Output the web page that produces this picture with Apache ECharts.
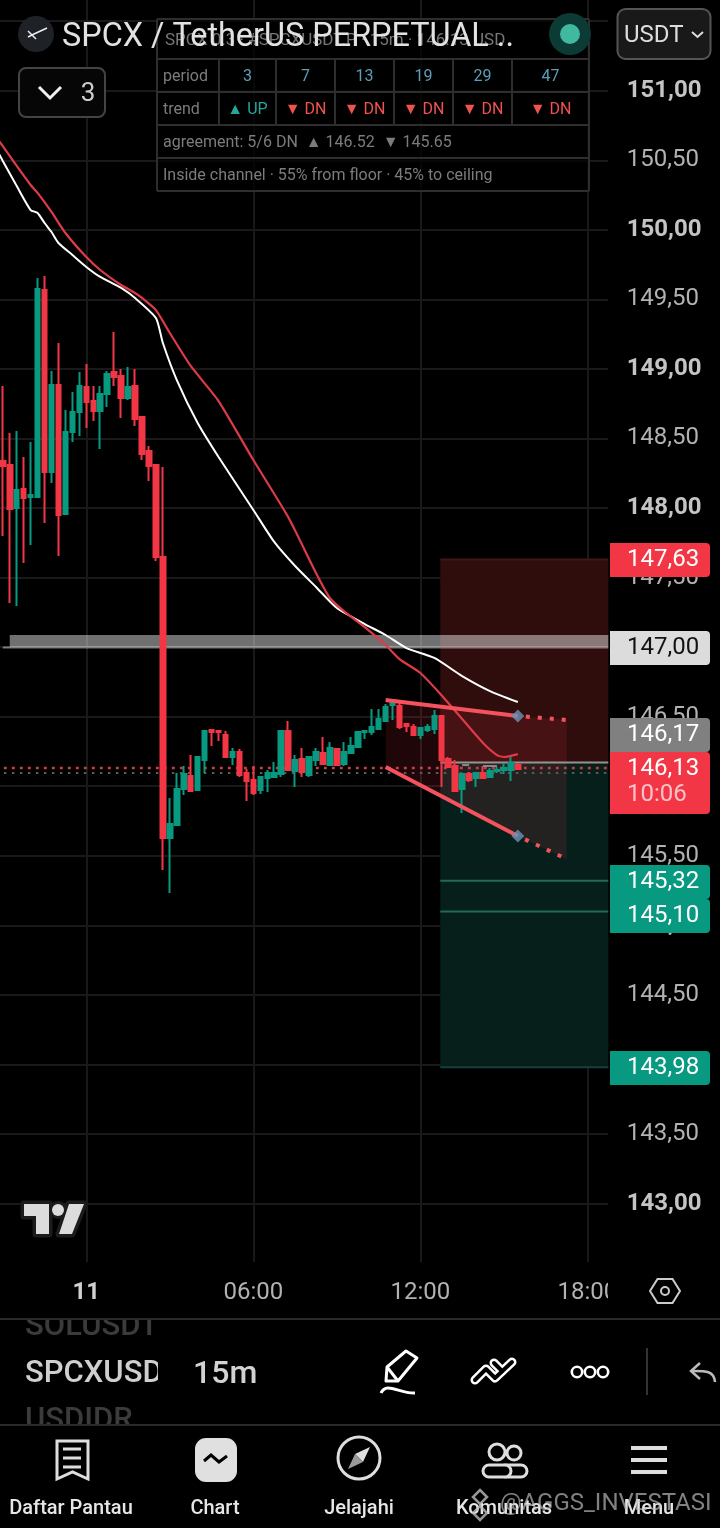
<!DOCTYPE html>
<html><head><meta charset="utf-8">
<style>html,body{margin:0;padding:0;background:#000}#c{width:720px;height:1528px}</style>
<script src="https://cdn.jsdelivr.net/npm/echarts@6/dist/echarts.min.js"></script>
</head><body><div id="c"></div>
<script>
// ---------- data ----------
const candleOpen=[148.338,148.309,148.000,148.137,148.079,148.079,149.567,148.259,148.884,147.957,148.546,148.690,148.870,148.769,148.697,148.820,148.978,148.949,148.791,148.877,148.654,148.410,148.309,147.648,145.628,145.721,145.980,146.073,145.973,146.188,146.404,146.397,146.368,146.210,146.246,146.095,146.044,145.973,146.059,146.066,146.088,146.397,146.109,146.195,146.080,146.188,146.239,146.152,146.267,146.160,146.239,146.282,146.390,146.390,146.411,146.469,146.584,146.576,146.447,146.426,146.368,146.404,146.411,146.505,146.195,146.145,145.980,146.088,146.059,146.095,146.066,146.109,146.116,146.116,146.152];
const candleClose=[148.302,147.993,148.129,148.072,148.093,149.574,148.259,148.884,147.950,148.546,148.690,148.877,148.762,148.697,148.820,148.963,148.942,148.791,148.870,148.640,148.388,148.302,147.648,145.628,145.728,145.980,146.088,145.965,146.210,146.397,146.390,146.390,146.210,146.246,146.080,146.037,145.951,146.066,146.095,146.095,146.397,146.116,146.188,146.102,146.210,146.246,146.160,146.275,146.152,146.246,146.289,146.390,146.397,146.426,146.483,146.569,146.598,146.426,146.433,146.368,146.418,146.426,146.505,146.188,146.138,145.965,146.088,146.044,146.095,146.059,146.109,146.116,146.131,146.167,146.123];
const candleLow=[147.799,147.317,147.295,147.605,147.734,148.079,147.892,148.180,147.655,147.957,148.474,148.518,148.575,148.625,148.424,148.726,148.877,148.647,148.776,148.590,148.345,148.194,147.619,145.398,145.232,145.714,145.937,145.958,145.965,146.095,146.289,146.325,146.210,146.152,146.066,145.893,145.937,145.944,145.958,146.066,146.066,146.116,145.994,146.066,146.066,146.145,146.160,146.145,146.152,146.145,146.239,146.282,146.339,146.368,146.411,146.469,146.476,146.411,146.390,146.368,146.339,146.390,146.375,145.994,146.131,145.958,145.807,146.030,145.994,146.059,146.059,146.095,146.088,146.037,146.116];
const candleHigh=[148.877,148.539,148.554,148.367,148.474,149.653,149.668,148.985,149.186,148.704,148.834,148.978,149.035,148.877,148.877,148.985,149.265,149.000,149.014,149.000,148.654,148.446,148.316,148.295,145.915,146.095,146.145,146.224,146.210,146.397,146.404,146.397,146.397,146.275,146.267,146.124,146.145,146.066,146.116,146.174,146.397,146.469,146.224,146.275,146.210,146.275,146.354,146.318,146.267,146.318,146.354,146.397,146.397,146.555,146.555,146.591,146.620,146.598,146.447,146.447,146.418,146.447,146.548,146.505,146.210,146.188,146.088,146.102,146.102,146.145,146.131,146.138,146.167,146.224,146.167];
const redMaK=[-1,0,2,4,5,7,9,12,14,17,19,20,22,24,27,31,36,41,45,47,49,52,55,57,60,63,66,69,71,72,74];
const redMa=[150.667,150.602,150.459,150.322,150.265,150.128,149.977,149.804,149.711,149.603,149.546,149.510,149.423,149.258,149.021,148.769,148.345,147.935,147.533,147.353,147.259,147.144,147.015,146.914,146.814,146.656,146.483,146.311,146.224,146.210,146.231];
const whiteMaK=[-1,0,2,4,5,6,7,8,10,12,14,17,19,22,23,25,28,31,36,39,42,45,48,52,55,58,62,66,70,74];
const whiteMa=[150.588,150.495,150.315,150.142,150.121,150.049,149.984,149.905,149.819,149.733,149.661,149.582,149.510,149.366,149.186,148.920,148.611,148.367,147.986,147.756,147.583,147.432,147.281,147.166,147.087,146.993,146.922,146.792,146.684,146.605];
const wedgeK=[55,74,81];
const wedgeTop=[146.620,146.505,146.476];
const wedgeBottom=[146.138,145.642,145.477];
const lastPrice=146.13, avgPrice=146.095;
const shortEntry=146.17, stopLoss=147.63, target=143.98, target1=145.32, target2=145.10;
const levelTop=147.087, levelBottom=147.00;
const ghostK=[[67,68],[70,72]], ghostP=[146.152,146.145];
const priceTicksMin=142.5, priceTicksMax=152, priceStep=0.5;
const tagTexts=['147,63','147,00','146,17','146,13','145,32','145,10','143,98'];
const periods=['3','7','13','19','29','47'];
const trends=['▲ UP','▼ DN','▼ DN','▼ DN','▼ DN','▼ DN'];
const times=[];for(let i=0;i<89;i++){const m=20*60+45+i*15;const h=Math.floor(m/60)%24;times.push(String(h).padStart(2,'0')+':'+String(m%60).padStart(2,'0'));}

// ---------- chart ----------
const FONT='Roboto';
const RED='#f23645',GREEN='#089981';
const candles=[['-','-','-','-']].concat(candleOpen.map((o,i)=>[o,candleClose[i],candleLow[i],candleHigh[i]]));
const sparse=(ks,vs)=>ks.map((k,i)=>[k+1,vs[i]]);
const showTick=(i,v)=>/^(00|06|12|18):00$/.test(v);

function zoneRender(top,bottom,fill,edge){
  return function(params,api){
    const a=api.coord([64,top]),b=api.coord([88,bottom]);
    const ch=[{type:'rect',shape:{x:a[0]-1,y:a[1],width:b[0]-a[0]+1,height:b[1]-a[1]},style:{fill:fill}}];
    if(edge)ch.push({type:'line',shape:{x1:a[0]-1,y1:edge==='t'?a[1]:b[1],x2:b[0],y2:edge==='t'?a[1]:b[1]},style:{stroke:edge==='t'?'#461416':'#16403a',lineWidth:2}});
    return {type:'group',children:ch};
  };
}
const series=[
 {type:'custom',z:2,silent:true,clip:false,data:[[64,stopLoss]],encode:{x:0,y:1},renderItem:zoneRender(stopLoss,shortEntry,'#2f0d0d','t')},
 {type:'custom',z:2,silent:true,clip:false,data:[[64,target]],encode:{x:0,y:1},renderItem:zoneRender(shortEntry,target,'#061f1b','b')},
 {type:'custom',z:3,silent:true,clip:false,data:[[2,levelTop]],encode:{x:0,y:1},renderItem:function(p,api){
   const a=api.coord([2,levelTop]),b=api.coord([88,levelBottom]),c=api.coord([1,levelBottom]);
   return {type:'group',children:[
     {type:'rect',shape:{x:a[0],y:a[1],width:b[0]-a[0],height:b[1]-a[1]},style:{fill:'rgba(255,255,255,0.44)'}},
     {type:'line',shape:{x1:c[0],y1:b[1]+0.5,x2:b[0],y2:b[1]+0.5},style:{stroke:'rgba(255,255,255,0.45)',lineWidth:2}}]};
 }},
 {type:'custom',z:3,silent:true,clip:false,data:[[56,wedgeTop[0]]],encode:{x:0,y:1},renderItem:function(p,api){
   const pts=[];wedgeK.forEach((k,i)=>pts.push(api.coord([k+1,wedgeTop[i]])));
   for(let i=wedgeK.length-1;i>=0;i--)pts.push(api.coord([wedgeK[i]+1,wedgeBottom[i]]));
   return {type:'polygon',shape:{points:pts},style:{fill:'rgba(242,54,69,0.13)'}};
 }},
 {type:'custom',z:3,silent:true,clip:false,data:[[64,target1]],encode:{x:0,y:1},renderItem:function(p,api){
   const mk=v=>{const a=api.coord([64,v]),b=api.coord([88,v]);return {type:'line',shape:{x1:a[0]-1,y1:a[1],x2:b[0],y2:b[1]},style:{stroke:'#1f6a5a',lineWidth:2}};};
   const a=api.coord([64,shortEntry]),b=api.coord([88,shortEntry]);
   return {type:'group',children:[mk(target1),mk(target2),{type:'line',shape:{x1:a[0]-1,y1:a[1],x2:b[0],y2:b[1]},style:{stroke:'rgba(190,190,190,0.75)',lineWidth:2}}]};
 }},
 {type:'line',z:3,silent:true,symbol:'none',data:[[0,avgPrice],[88,avgPrice]],lineStyle:{color:'#5a5a5a',width:2,type:[2.5,5.5]}},
 {type:'line',z:3,silent:true,symbol:'none',data:[[0,lastPrice],[88,lastPrice]],lineStyle:{color:'#c83a46',width:2.5,type:[3,5]}},
 {type:'candlestick',z:4,silent:true,barWidth:5,data:candles,itemStyle:{color:GREEN,color0:RED,borderColor:GREEN,borderColor0:RED,borderWidth:2}},
 {type:'custom',z:5,silent:true,clip:false,data:[[ghostK[0][0],ghostP[0]]],encode:{x:0,y:1},renderItem:function(p,api){
   return {type:'group',children:ghostK.map((k,i)=>{const a=api.coord([k[0],ghostP[i]]),b=api.coord([k[1],ghostP[i]]);
     return {type:'line',shape:{x1:a[0],y1:a[1],x2:b[0],y2:b[1]},style:{stroke:'#8a8a8a',lineWidth:2}};})};
 }},
 {type:'line',z:5,silent:true,symbol:'none',smooth:0.2,data:sparse(whiteMaK,whiteMa),lineStyle:{color:'#ffffff',width:2}},
 {type:'line',z:5,silent:true,symbol:'none',smooth:0.2,data:sparse(redMaK,redMa),lineStyle:{color:'#dd3b47',width:2.2}},
 {type:'line',z:6,silent:true,symbol:'none',data:sparse(wedgeK.slice(0,2),wedgeTop.slice(0,2)),lineStyle:{color:'#f4525e',width:4}},
 {type:'line',z:6,silent:true,symbol:'none',data:sparse(wedgeK.slice(0,2),wedgeBottom.slice(0,2)),lineStyle:{color:'#f4525e',width:4}},
 {type:'line',z:6,silent:true,symbol:'none',data:sparse(wedgeK.slice(1),wedgeTop.slice(1)),lineStyle:{color:'#f4525e',width:4,type:[4,8],dashOffset:-8}},
 {type:'line',z:6,silent:true,symbol:'none',data:sparse(wedgeK.slice(1),wedgeBottom.slice(1)),lineStyle:{color:'#f4525e',width:4,type:[4,8],dashOffset:-8}},
 {type:'scatter',z:7,silent:true,symbol:'diamond',symbolSize:13,data:[[wedgeK[1]+1,wedgeTop[1]],[wedgeK[1]+1,wedgeBottom[1]]],itemStyle:{color:'#6b93b8'}}
];

// ---------- screen furniture ----------
const G=[];
const T=(t,x,y,size,fill,o)=>G.push({type:'text',z:(o&&o.z)||20,x:x,y:y+size*0.08,silent:true,style:{text:t,fontFamily:FONT,fontSize:size,fill:fill,fontWeight:(o&&o.w)||400,align:(o&&o.a)||'left',verticalAlign:'middle'}});
const R=(x,y,w,h,fill,o)=>G.push({type:'rect',z:(o&&o.z)||15,silent:true,shape:{x:x,y:y,width:w,height:h,r:(o&&o.r)||0},style:{fill:fill,stroke:(o&&o.s)||null,lineWidth:(o&&o.lw)||0}});
const P=(pts,stroke,lw,o)=>G.push({type:(o&&o.closed)?'polygon':'polyline',z:(o&&o.z)||20,silent:true,shape:{points:pts},style:{stroke:stroke,lineWidth:lw,fill:(o&&o.fill)||null,lineJoin:(o&&o.join)||'miter',lineCap:(o&&o.cap)||'butt'}});
const C=(x,y,r,fill,stroke,lw,o)=>G.push({type:'circle',z:(o&&o.z)||20,silent:true,shape:{cx:x,cy:y,r:r},style:{fill:fill,stroke:stroke,lineWidth:lw||0}});
const B=(x1,y1,c1x,c1y,c2x,c2y,x2,y2,stroke,lw)=>G.push({type:'bezierCurve',z:20,silent:true,shape:{x1,y1,cpx1:c1x,cpy1:c1y,cpx2:c2x,cpy2:c2y,x2,y2},style:{stroke:stroke,lineWidth:lw,fill:null}});

// masks that end the plot
R(0,1262,720,58,'#000',{z:1});
R(608,0,7,1262,'#000',{z:1});
R(608,1270,42,40,'#000',{z:4});

// header
C(36,34,18,'#1e2226',null,0,{z:12});
P([[28,37],[34,34],[47,28]],'#eee',1.5,{z:13});
P([[28,31],[36,39]],'#eee',1.5,{z:13});
C(570,34,21,'#0c3a34',null,0,{z:12});
C(570,34,10,'#41b8a0',null,0,{z:13});
R(158,20,430,170,'rgba(0,0,0,0.72)',{z:6});
T('SPCX 0.3 · #SPCXUSDT.P · 15m · 146.13 USD',165,39,17,'#777',{z:9});
T('SPCX / TetherUS PERPETUAL ..',62,35,32.4,'#e2e2e2',{z:14});
R(617.5,9,93,50,'#191919',{r:8,s:'#555',lw:2,z:14});
T('USDT',624,34,24,'#dddddd',{z:15});
P([[692,32],[697.5,37],[703,32]],'#dddddd',2,{z:15});
R(19,68,86,49,'#060606',{r:7,s:'#444',lw:2,z:14});
P([[39,87],[50,98],[61,87]],'#f0f0f0',3,{z:15});
T('3',88,92,26,'#cccccc',{z:15,a:'center'});

// table
const cols=[157,219,276,335,394,453,512,589],rows=[19,59,92,125,158,191],gridC='#2e2e2e';
rows.forEach(y=>P([[157,y],[589,y]],gridC,2,{z:7}));
[157,589].forEach(x=>P([[x,19],[x,191]],gridC,2,{z:7}));
cols.slice(1,-1).forEach(x=>P([[x,59],[x,125]],gridC,2,{z:7}));
T('period',163,76,16,'#7c7c7c',{z:8});
T('trend',163,109,16,'#7c7c7c',{z:8});
periods.forEach((v,i)=>T(v,(cols[i+1]+cols[i+2])/2,76,16,'#5d9db9',{z:8,a:'center'}));
trends.forEach((v,i)=>T(v,(cols[i+1]+cols[i+2])/2,109,16,i===0?'#26a69a':'#ef5350',{z:8,a:'center'}));
T('agreement: 5/6 DN  ▲ 146.52  ▼ 145.65',163,142,16,'#7c7c7c',{z:8});
T('Inside channel · 55% from floor · 45% to ceiling',163,175,16,'#7c7c7c',{z:8});

// logo
const logoC='#dcdcdc';
P([[24,1204],[49,1204],[49,1234],[36,1234],[36,1216],[24,1216]],'#1b1b1b',7,{closed:1,fill:'#1b1b1b',z:6,join:'round'});
P([[69,1204],[84,1204],[72,1234],[59,1234]],'#1b1b1b',7,{closed:1,fill:'#1b1b1b',z:6,join:'round'});
C(58,1210,9,'#1b1b1b',null,0,{z:6});
P([[24,1204],[49,1204],[49,1234],[36,1234],[36,1216],[24,1216]],logoC,0,{closed:1,fill:logoC,z:7});
P([[69,1204],[84,1204],[72,1234],[59,1234]],logoC,0,{closed:1,fill:logoC,z:7});
C(58,1210,6,logoC,null,0,{z:7});

// price tags
const tag=(i,y,h,fill,col)=>{R(610,y,100,h,fill,{r:[0,4,4,0],z:15});T(tagTexts[i],627,y+15,24,col,{z:16});};
tag(0,543,34,RED,'#fff');
tag(1,631,34,'#dcdcdc','#131313');
tag(2,718,34,'#808080','#fff');
tag(3,752,62,RED,'#fff');
T('10:06',627,793,24,'#fbc3c9',{z:16});
tag(4,865,34,GREEN,'#fff');
tag(5,899,34,GREEN,'#fff');
tag(6,1051,34,GREEN,'#fff');

// hexagon
P([[657.5,1279],[672.5,1279],[680,1291],[672.5,1303],[657.5,1303],[650,1291]],'#cccccc',2,{closed:1,z:6});
C(665,1291,4,null,'#cccccc',2,{z:6});

// toolbar
P([[0,1319],[720,1319]],'#2a2a2a',2,{z:12});
P([[0,1425],[720,1425]],'#2a2a2a',2,{z:12});
T('SOLUSDT',25,1325,31,'#3b3b3b',{w:500,z:5});
T('USDIDR',25,1419,31,'#3b3b3b',{w:500,z:5});
T('SPCXUSDT',25,1372,31,'#cfcfcf',{w:500,z:5});
R(158,1300,34,118,'#000',{z:6});
R(0,1300,160,19,'#000',{z:6});
R(0,1426,160,14,'#000',{z:6});
T('15m',193,1372,32,'#d2d2d2',{w:500});
P([[386,1381],[387,1367],[406,1351],[417,1358],[398,1381]],'#fff',3,{closed:1,join:'round'});
P([[387,1367],[398,1381]],'#fff',3);
B(381,1393,386,1381,400,1394,415,1393,'#fff',3);
P([[475,1380],[486,1369],[495,1378],[512,1362]],'#fff',9,{join:'round',cap:'round'});
P([[494,1363],[502,1371]],'#fff',9,{cap:'round'});
P([[475,1380],[486,1369],[495,1378],[512,1362]],'#000',4,{join:'round',cap:'round',z:21});
P([[494,1363],[502,1371]],'#000',4,{cap:'round',z:21});
[577,590,603].forEach(x=>C(x,1372,5.2,null,'#fff',2.6));
P([[647,1348],[647,1395]],'#333',2);
P([[700,1363],[691,1371],[700,1379]],'#bbbbbb',2.5);
B(691,1371,704,1371,714,1370,715,1382,'#bbbbbb',2.5);

// bottom navigation
const navC='#dedede';
P([[57,1441],[88,1441],[88,1479],[72.5,1472],[57,1479]],navC,3,{closed:1});
[1449,1458,1467].forEach(y=>P([[63,y],[81,y]],navC,3));
R(195,1438,42,44,'#e0e0e0',{r:11,z:20});
P([[204,1461],[211,1455],[219,1462],[227,1456]],'#000',3,{z:21});
C(359,1458,21,null,navC,3);
P([[370,1447],[355,1454],[363,1462]],navC,0,{closed:1,fill:navC});
P([[348,1469],[355,1454],[363,1462]],'#9a9a9a',0,{closed:1,fill:'#9a9a9a'});
C(497,1452,8,null,navC,3);
C(514,1453,7,null,navC,3);
R(500,1465,27,12,'#000',{r:6,s:navC,lw:3,z:20});
R(483,1465,28,12,'#000',{r:6,s:navC,lw:3,z:21});
[1448,1460,1472].forEach(y=>P([[631,y],[667,y]],navC,4));
T('Daftar Pantau',71,1507,20,'#e6e6e6',{a:'center',w:500});
T('Chart',215,1507,20,'#e6e6e6',{a:'center',w:500});
T('Jelajahi',359,1507,20,'#e6e6e6',{a:'center',w:500});
T('Komunitas',504,1507,20,'#e6e6e6',{a:'center',w:500});
T('Menu',649,1507,20,'#e6e6e6',{a:'center',w:500});
P([[480,1490],[487,1497],[480,1504],[473,1497]],'rgba(190,190,190,.8)',2.5,{closed:1,z:30});
P([[480,1506],[487,1513],[480,1520],[473,1513]],'rgba(190,190,190,.8)',2.5,{closed:1,z:30});
T('@AGGS_INVESTASI',500,1502,24,'rgba(190,190,190,.68)',{z:30});

const chart=echarts.init(document.getElementById('c'),null,{renderer:'canvas'});
chart.setOption({
  backgroundColor:'#000',animation:false,
  grid:{left:-7.64,top:-48.4,width:619.44,height:1321.45,containLabel:false,outerBoundsMode:'none'},
  xAxis:[
   {type:'category',data:times,boundaryGap:true,z:0,axisLine:{show:false},axisTick:{show:false},axisLabel:{show:false},
    splitLine:{show:true,interval:showTick,alignWithLabel:true,lineStyle:{color:'#191919',width:2}}},
   {type:'category',data:times,boundaryGap:true,position:'bottom',z:3,axisLine:{show:false},axisTick:{show:false},splitLine:{show:false},
    axisLabel:{show:true,interval:showTick,margin:8,fontFamily:FONT,fontSize:24,color:'#b2b2b2',hideOverlap:false,
      formatter:v=>v==='00:00'?'{b|11}':v,rich:{b:{fontFamily:FONT,fontSize:24,fontWeight:700,color:'#d0d0d0'}}}}
  ],
  yAxis:{type:'value',position:'right',min:priceTicksMin,max:priceTicksMax,interval:priceStep,z:0,scale:true,
    axisLine:{show:false},axisTick:{show:false},
    splitLine:{show:true,lineStyle:{color:'#191919',width:2}},
    axisLabel:{margin:15,fontFamily:FONT,fontSize:24,color:'#b2b2b2',showMinLabel:false,
      formatter:v=>{const s=v.toFixed(2).replace('.',',');return Number.isInteger(v)?'{b|'+s+'}':s;},
      rich:{b:{fontFamily:FONT,fontSize:24,fontWeight:700,color:'#c4c4c4'}}}},
  series:series,
  graphic:{elements:G}
});
</script></body></html>
